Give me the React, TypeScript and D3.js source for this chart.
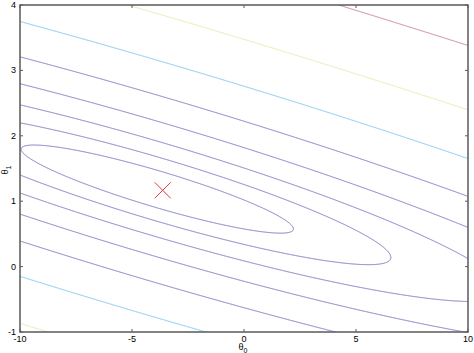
import React from "react";
import * as d3 from "d3";

// Summary moments of the training data (population x, profit y)
const meanX = 8.1598;
const meanX2 = 81.4;
const meanY = 5.8391;
const meanXY = 65.321;
const meanY2 = 64.1454;

// Contour levels: logspace(-2, 3, 20)
const contourLevels = [
  0.01, 0.01833, 0.03360, 0.06158, 0.1129, 0.2069, 0.3793, 0.6952, 1.274, 2.336,
  4.281, 7.848, 14.38, 26.37, 48.33, 88.59, 162.4, 297.6, 545.6, 1000,
];
const levelColors = [
  "#7b7bc4", "#7b7bc4", "#7b7bc4", "#7b7bc4", "#7b7bc4", "#7b7bc4", "#7b7bc4", "#7b7bc4", "#7b7bc4", "#7b7bc4",
  "#7b7bc4", "#7b7bc4", "#7b7bc4", "#7b7bc4", "#7b7bc4", "#7b7bc4", "#80c8ee", "#e2eeb0", "#c8848f", "#c06060",
];

// Gradient descent result
const thetaResult = [-3.6303, 1.1664];

const xTicks = [-10, -5, 0, 5, 10];
const yTicks = [-1, 0, 1, 2, 3, 4];

const W = 474;
const H = 353;
const left = 20, right = 468, top = 5, bottom = 332;

function cost(t0: number, t1: number) {
  return 0.5 * (t0 * t0 + 2 * meanX * t0 * t1 + meanX2 * t1 * t1 - 2 * meanY * t0 - 2 * meanXY * t1 + meanY2);
}

export default function App() {
  const x = d3.scaleLinear().domain([-10, 10]).range([left, right]);
  const y = d3.scaleLinear().domain([-1, 4]).range([bottom, top]);

  const pad = 6;
  const gx0 = left - pad, gy0 = top - pad;
  const n = right - left + 2 * pad + 1;
  const m = bottom - top + 2 * pad + 1;
  const values = new Float64Array(n * m);
  for (let j = 0; j < m; j++) {
    const t1 = y.invert(gy0 + j);
    for (let i = 0; i < n; i++) {
      const t0 = x.invert(gx0 + i);
      values[j * n + i] = cost(t0, t1);
    }
  }
  const contours = d3.contours().size([n, m]).thresholds(contourLevels)(values as any);
  const path = d3.geoPath();

  const axisColor = "#5a5a5a";
  const font = "Liberation Sans, Arial, sans-serif";
  const cx = x(thetaResult[0]);
  const cy = y(thetaResult[1]);
  const s = 8;

  return (
    <svg width={W} height={H} style={{ position: "absolute", left: 0, top: 0, background: "#fff" }}>
      <defs>
        <clipPath id="plotclip">
          <rect x={left} y={top} width={right - left} height={bottom - top} />
        </clipPath>
      </defs>
      <g clipPath="url(#plotclip)">
        <g transform={`translate(${gx0},${gy0})`}>
          {contours.map((c, k) => {
            const d = path(c as any);
            if (!d) return null;
            const idx = contourLevels.indexOf(c.value);
            return (
              <path key={k} d={d} fill="none" stroke={levelColors[idx >= 0 ? idx : k]} strokeWidth={1} />
            );
          })}
        </g>
      </g>
      <line x1={cx - s} y1={cy - s} x2={cx + s} y2={cy + s} stroke="#e33a3a" strokeWidth={1} />
      <line x1={cx - s} y1={cy + s} x2={cx + s} y2={cy - s} stroke="#e33a3a" strokeWidth={1} />
      <rect x={left} y={top} width={right - left} height={bottom - top} fill="none" stroke={axisColor} strokeWidth={1.5} />
      {xTicks.map((t) => (
        <g key={"x" + t}>
          <line x1={x(t)} x2={x(t)} y1={bottom} y2={bottom - 3} stroke={axisColor} />
          <line x1={x(t)} x2={x(t)} y1={top} y2={top + 3} stroke={axisColor} />
          <text x={x(t)} y={342} textAnchor="middle" fontFamily={font} fontSize={9} fill="#000">
            {t}
          </text>
        </g>
      ))}
      {yTicks.map((t) => (
        <g key={"y" + t}>
          <line x1={left} x2={left + 3} y1={y(t)} y2={y(t)} stroke={axisColor} />
          <line x1={right} x2={right - 3} y1={y(t)} y2={y(t)} stroke={axisColor} />
          <text x={16} y={y(t) + 3} textAnchor="end" fontFamily={font} fontSize={9} fill="#000">
            {t}
          </text>
        </g>
      ))}
      <text x={243} y={350} textAnchor="middle" fontFamily={font} fontSize={9} fill="#000">
        θ<tspan fontSize={7} dy={3}>0</tspan>
      </text>
      <text transform="translate(8,170) rotate(-90)" textAnchor="middle" fontFamily={font} fontSize={9} fill="#000">
        θ<tspan fontSize={7} dy={3}>1</tspan>
      </text>
    </svg>
  );
}
